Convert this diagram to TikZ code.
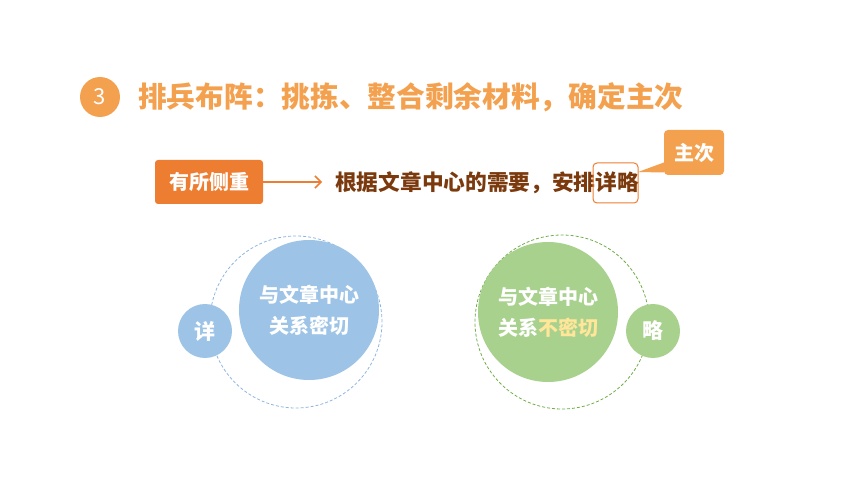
\documentclass[tikz,border=0pt]{standalone}
\usepackage{fontspec}
\newfontfamily\cjk{Noto Sans CJK SC}
\usetikzlibrary{arrows.meta,shapes.callouts}
\definecolor{org}{HTML}{ED7D31}
\definecolor{lorg}{HTML}{F4A14F}
\definecolor{brn}{HTML}{7B3A0E}
\definecolor{bl}{HTML}{9DC3E6}
\definecolor{gr}{HTML}{A9D18E}
\definecolor{yl}{HTML}{FFE699}
\definecolor{bld}{HTML}{8FB6E0}
\definecolor{grd}{HTML}{70AD47}
\begin{document}
\begin{tikzpicture}[x=1pt,y=-1pt,font=\cjk\bfseries,
 txt/.style={text=white,font=\cjk\bfseries\fontsize{20}{31}\selectfont,align=center},
 small/.style={circle,minimum size=54pt,inner sep=0pt,text=white,font=\cjk\bfseries\fontsize{21}{24}\selectfont}]
\useasboundingbox (0,0) rectangle (860,484);
\node[circle,fill=lorg,minimum size=40pt,inner sep=0pt,text=white,font=\cjk\fontsize{22}{24}\selectfont] (num) at (100,97) {3};
\node[anchor=west,text=lorg,inner sep=0pt,font=\cjk\bfseries\fontsize{28.7}{30}\selectfont] (title) at (138,97) {排兵布阵：挑拣、整合剩余材料，确定主次};
\node[fill=org,rounded corners=3pt,minimum width=108pt,minimum height=44pt,text=white,font=\cjk\bfseries\fontsize{20}{22}\selectfont] (key) at (209,182) {有所侧重};
\node[anchor=west,inner sep=0pt,text=brn,font=\cjk\bfseries\fontsize{21.7}{24}\selectfont] (main) at (335,183) {根据文章中心的需要，安排详略};
\coordinate (arrend) at (322,182);
\draw[org,line width=1.5pt,-{Straight Barb[length=6pt]}] (key.east) -- (arrend);
\node[draw=org,line width=1pt,rounded corners=4pt,minimum width=45pt,minimum height=40pt] (hl) at (615.5,183) {};
\node[fill=lorg,rounded corners=4pt,minimum width=60pt,minimum height=45pt,text=white,font=\cjk\bfseries\fontsize{20}{22}\selectfont] (zc) at (694,152.5) {主次};
\coordinate (tip) at (638,172);
\fill[lorg] ([yshift=-10pt]zc.west) -- (tip) -- ([yshift=-20pt]zc.west) -- cycle;
% left
\node[circle,draw=bld,line width=0.8pt,dash pattern=on 3pt off 2pt,minimum size=172pt] (ld) at (296,322) {};
\node[circle,fill=bl,minimum size=140pt,txt] (lc) at (309,310) {与文章中心\\关系密切};
\node[small,fill=bl] (xiang) at (205,331) {详};
% right
\node[circle,draw=grd,line width=0.8pt,dash pattern=on 3pt off 2pt,minimum size=174pt] (rd) at (562,322) {};
\node[circle,fill=gr,minimum size=140pt,txt] (rc) at (548,312) {与文章中心\\关系\textcolor{yl}{不密切}};
\node[small,fill=gr] (lue) at (653,331) {略};
\end{tikzpicture}
\end{document}
